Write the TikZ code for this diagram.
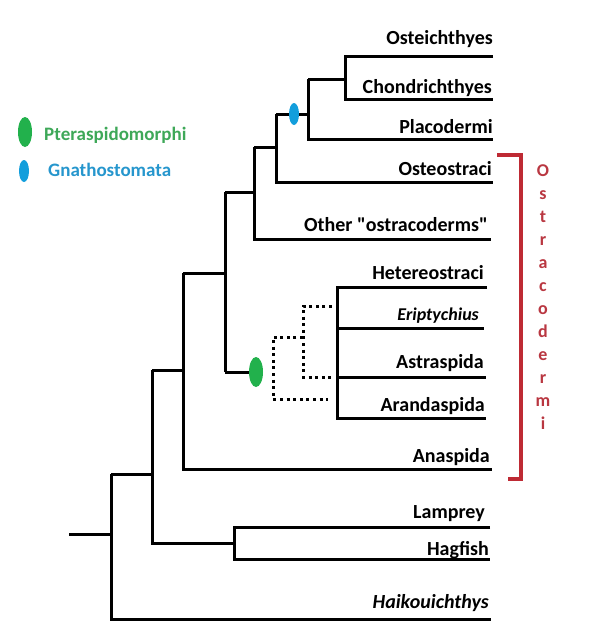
\documentclass[tikz,border=0pt]{standalone}
\usepackage{fontspec}
\setmainfont{Carlito}
\newfontfamily\plainqfont{Carlito}
\usetikzlibrary{shapes.geometric}
\definecolor{bracketred}{RGB}{190,42,52}
\definecolor{letterred}{RGB}{185,55,65}
\definecolor{markgreen}{RGB}{34,177,76}
\definecolor{textgreen}{RGB}{62,168,88}
\definecolor{markblue}{RGB}{18,158,220}
\definecolor{textblue}{RGB}{38,150,205}
\begin{document}
\begin{tikzpicture}[x=1pt,y=-1pt,
  br/.style={line width=3pt, line join=miter},
  dotbr/.style={line width=3pt, dash pattern=on 3pt off 3.6pt},
  lbl/.style={anchor=base east, inner sep=0pt, font=\fontsize{20}{24}\selectfont\bfseries},
  ilbl/.style={anchor=base east, inner sep=0pt, font=\fontsize{18}{22}\selectfont\bfseries\itshape},
  leg/.style={anchor=base west, inner sep=0pt, font=\fontsize{19}{23}\selectfont\bfseries},
  gmark/.style={ellipse, fill=markgreen, draw=none, minimum width=14pt, minimum height=30pt, inner sep=0pt},
  bmark/.style={ellipse, fill=markblue, draw=none, minimum width=10pt, minimum height=22pt, inner sep=0pt},
  rl/.style={anchor=base, inner sep=0pt, text=letterred, font=\fontsize{18}{20}\selectfont\bfseries}]
\useasboundingbox (0,0) rectangle (593,642);

% legend
\node[gmark] (lg) at (25,132) {};
\node[leg, text=textgreen] (lgt) at (44,140) {Pteraspidomorphi};
\node[bmark] (lb) at (24,171) {};
\node[leg, text=textblue] (lbt) at (48,176) {Gnathostomata};

% leaf labels
\node[lbl] (tOst) at (493,45) {Osteichthyes};
\node[lbl] (tCho) at (492,93) {Chondrichthyes};
\node[lbl] (tPla) at (493,133) {Placodermi};
\node[lbl] (tOsc) at (492,175) {Osteostraci};
\node[lbl] (tOth) at (488,231) {\plainqfont\bfseries Other "ostracoderms"};
\node[lbl] (tHet) at (484,279) {Hetereostraci};
\node[ilbl] (tEri) at (479,320) {Eriptychius};
\node[lbl] (tAst) at (484,368) {Astraspida};
\node[lbl] (tAra) at (485,411) {Arandaspida};
\node[lbl] (tAna) at (490,462) {Anaspida};
\node[lbl] (tLam) at (485,518) {Lamprey};
\node[lbl] (tHag) at (489,555) {Hagfish};
\node[ilbl, font=\fontsize{20}{24}\selectfont\bfseries\itshape] (tHai) at (489,608) {Haikouichthys};

% leaf ends
\coordinate (eOst) at (493,57);
\coordinate (eCho) at (493,99);
\coordinate (ePla) at (493,139);
\coordinate (eOsc) at (493,182);
\coordinate (eOth) at (491,239);
\coordinate (eHet) at (487,287);
\coordinate (eEri) at (484,328);
\coordinate (eAst) at (486,377);
\coordinate (eAra) at (486,418);
\coordinate (eAna) at (492,469);
\coordinate (eLam) at (490,527);
\coordinate (eHag) at (490,559);
\coordinate (eHai) at (491,619);

% solid tree
\draw[br] (eOst) -- (345,57) -- (345,99) -- (eCho);
\draw[br] (308,79) -- (345,79);
\draw[br] (308,79) -- (308,139) -- (ePla);
\node[bmark] (gn) at (294,114) {};
\draw[br] (276,114) -- (gn.west);
\draw[br] (gn.east) -- (308,114);
\draw[br] (276,114) -- (276,182) -- (eOsc);
\draw[br] (254,147) -- (276,147);
\draw[br] (254,147) -- (254,239) -- (eOth);
\draw[br] (225,192) -- (254,192);
\draw[br] (225,192) -- (225,372);
\node[gmark] (pt) at (256,372) {};
\draw[br] (225,372) -- (pt.west);
\draw[br] (eHet) -- (337,287) -- (337,418) -- (eAra);
\draw[br] (337,328) -- (eEri);
\draw[br] (337,377) -- (eAst);
\draw[br] (183,273) -- (225,273);
\draw[br] (183,273) -- (183,469) -- (eAna);
\draw[br] (152,370) -- (183,370);
\draw[br] (152,370) -- (152,543) -- (234,543);
\draw[br] (eLam) -- (234,527) -- (234,559) -- (eHag);
\draw[br] (111,474) -- (152,474);
\draw[br] (111,474) -- (111,619) -- (eHai);
\coordinate (root) at (69,534);
\draw[br] (root) -- (111,534);

% dotted part
\draw[dotbr] (303,337) -- (273,337) -- (273,399) -- (328,399);
\draw[dotbr] (332,306) -- (303,306) -- (303,377) -- (332,377);

% red bracket
\draw[line width=4pt, bracketred, line join=miter] (497,155) -- (521,155) -- (521,479) -- (508,479);
\foreach \l [count=\i from 0] in {O,s,t,r,a,c,o,d,e,r,m,i}
  \node[rl] (r\i) at (543,176+23*\i) {\l};
\end{tikzpicture}
\end{document}
